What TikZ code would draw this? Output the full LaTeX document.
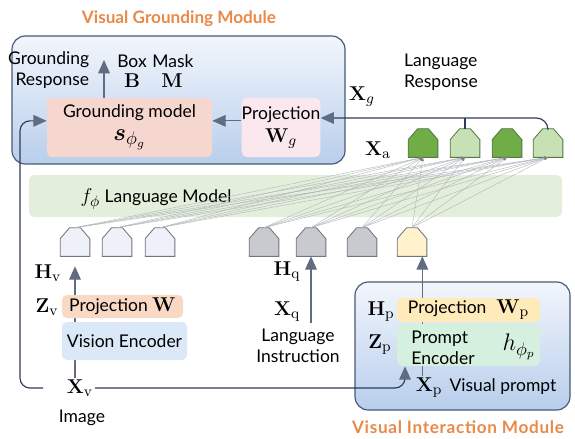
\documentclass[tikz,border=0pt]{standalone}
\usepackage{amsmath}
\usepackage{amssymb}
\usepackage{bm}
\usepackage[no-math]{fontspec}
\setmainfont{Lato}
\usetikzlibrary{arrows.meta}
\usetikzlibrary{positioning}
\definecolor{titleorange}{RGB}{233,137,72}
\definecolor{modtop}{RGB}{242,246,252}
\definecolor{modbot}{RGB}{184,206,236}
\definecolor{modline}{RGB}{72,88,118}
\definecolor{gmpink}{RGB}{246,215,208}
\definecolor{pgpink}{RGB}{250,232,238}
\definecolor{lmgreen}{RGB}{227,239,219}
\definecolor{pwpeach}{RGB}{249,217,196}
\definecolor{veblue}{RGB}{219,232,247}
\definecolor{pwpyellow}{RGB}{255,235,186}
\definecolor{pemint}{RGB}{214,240,224}
\definecolor{adark}{RGB}{112,173,71}
\definecolor{alight}{RGB}{199,225,181}
\definecolor{aline}{RGB}{84,120,70}
\definecolor{tokwhite}{RGB}{238,241,247}
\definecolor{tokgray}{RGB}{201,202,208}
\definecolor{tokyellow}{RGB}{255,242,205}
\definecolor{tokline}{RGB}{110,116,128}
\definecolor{arrowgray}{RGB}{98,108,128}
\definecolor{connnavy}{RGB}{48,58,92}
\definecolor{fangray}{RGB}{178,181,186}
\newcommand{\tokenpath}[1]{(#1.south west) -- ([yshift=-6.6pt]#1.north west)
    -- ([xshift=5.7pt]#1.north west) -- ([xshift=-5.7pt]#1.north east)
    -- ([yshift=-6.6pt]#1.north east) -- (#1.south east) -- cycle}
\tikzset{modbox/.style = {rounded corners=8pt, top color=modtop, bottom color=modbot,
                          draw=modline, line width=0.7pt},
         title/.style = {font=\bfseries\fontsize{10.3}{12}\selectfont, text=titleorange},
         box/.style = {rounded corners=3pt, inner sep=0pt, align=center},
         mlab/.style = {font=\fontsize{13}{15}\selectfont, inner sep=1pt},
         token/.style = {minimum width=17.4pt, minimum height=16.8pt, inner sep=0pt},
         tokline/.style = {line width=0.5pt},
         fan/.style = {draw=fangray, line width=0.25pt, -{Latex[length=2.2pt,width=1.8pt,color=gray]}},
         conn/.style = {draw=connnavy, line width=0.7pt},
         vline/.style = {draw=arrowgray, line width=0.7pt},
         bigtip/.style = {-{Triangle[length=8pt,width=7pt,color=arrowgray]}}}

\begin{document}
\begin{tikzpicture}[x=0.6pt, y=-0.6pt, font=\fontsize{10.5}{12.5}\selectfont]
    \useasboundingbox (0,0) rectangle (575,438);
    % modules
    \node[modbox, minimum width=199.8pt, minimum height=76.8pt] (vgm) at (178.5,100) {};
    \node[title] (vgmt) at (179,19) {Visual Grounding Module};
    \node[modbox, minimum width=129pt, minimum height=76.8pt] (vim) at (462.5,346) {};
    \node[title] (vimt) at (458,427) {\addfontfeature{LetterSpace=4}Visual Interaction Module};
    % language model
    \node[box, fill=lmgreen, minimum width=319.8pt, minimum height=25.2pt] (lm) at (295.5,196) {};
    \node (lmt) at (156,199) {{\fontsize{13}{15}\selectfont$f_\phi$} Language Model};
    % tokens
    \foreach \n/\x in {v1/75, v2/117, v3/160} {
        \node[token] (\n) at (\x,242) {};
        \filldraw[tokline, fill=tokwhite, draw=tokline] \tokenpath{\n};
    }
    \foreach \n/\x in {q1/264, q2/311, q3/362} {
        \node[token] (\n) at (\x,242) {};
        \filldraw[tokline, fill=tokgray, draw=tokline] \tokenpath{\n};
    }
    \node[token] (p1) at (412,242) {};
    \filldraw[tokline, fill=tokyellow, draw=tokline] \tokenpath{p1};
    \foreach \n/\x/\c in {a1/423/adark, a2/465/alight, a3/507/adark, a4/548/alight} {
        \node[token] (\n) at (\x,143) {};
        \filldraw[tokline, fill=\c, draw=aline] \tokenpath{\n};
    }
    \foreach \s in {v1,v2,v3,q1,q2,q3,p1}
        \foreach \t in {a1,a2,a3,a4}
            \draw[fan] (\s.north) -- (\t.south);
    \node[mlab] (xa) at (378,150) {$\mathbf{X}_\mathrm{a}$};
    % inputs
    \node[mlab] (xv) at (80,388) {$\mathbf{X}_\mathrm{v}$};
    \node (img) at (82,418) {Image};
    \node[align=center] (lq) at (298,346) {Language\\Instruction};
    \node[mlab] (xp) at (429,388) {$\mathbf{X}_\mathrm{p}$};
    \node (vp) at (503,387) {Visual prompt};
    \draw[vline, bigtip, shorten >=6pt] (v1.south |- xv.north) -- (v1.south);
    \draw[vline, bigtip] (lq.north -| q2.south) -- (q2.south);
    \draw[vline, bigtip] ([xshift=-4pt]xp.north) -- ([xshift=-4pt]xp.north |- p1.south);
    % vision branch
    \node[box, fill=pwpeach, minimum width=72.6pt, minimum height=13.8pt] (pw) at (122.5,306.5)
        {Projection {\fontsize{13}{15}\selectfont$\mathbf{W}$}};
    \node[box, fill=veblue, minimum width=75pt, minimum height=22.8pt] (ve) at (124.5,341) {Vision Encoder};
    \node[mlab] (hv) at (48,273) {$\mathbf{H}_\mathrm{v}$};
    \node[mlab] (zv) at (47,307) {$\mathbf{Z}_\mathrm{v}$};
    \node[mlab] (hq) at (287,272) {$\mathbf{H}_\mathrm{q}$};
    \node[mlab] (xq) at (287,312) {$\mathbf{X}_\mathrm{q}$};
    % prompt branch
    \node[box, fill=pwpyellow, minimum width=85.8pt, minimum height=14.4pt] (pwp) at (468.5,310)
        {Projection\hspace{6pt}{\fontsize{13}{15}\selectfont$\mathbf{W}_\mathrm{p}$}};
    \node[box, fill=pemint, minimum width=85.8pt, minimum height=25.2pt] (pe) at (468.5,345) {};
    \node[align=left] (pet) at (443,348) {Prompt\\Encoder};
    \node[font=\fontsize{15}{17}\selectfont] (hphi) at (519,347) {$h_{\phi_p}$};
    \node[mlab] (hp) at (381,312) {$\mathbf{H}_\mathrm{p}$};
    \node[mlab] (zp) at (380,345) {$\mathbf{Z}_\mathrm{p}$};
    % grounding
    \node[box, fill=gmpink, minimum width=99pt, minimum height=35.4pt] (gm) at (129.5,127.5)
        {Grounding model\\[1pt]{\fontsize{15}{17}\selectfont$\boldsymbol{s}_{\phi_g}$}};
    \node[box, fill=pgpink, minimum width=46.8pt, minimum height=35.4pt] (pg) at (281,127.5)
        {Projection\\[1pt]{\fontsize{13}{15}\selectfont$\mathbf{W}_g$}};
    \coordinate (gr) at (104,60);
    \draw[vline, bigtip] ([xshift=-15.3pt]gm.north) -- ([xshift=-15.3pt]gm.north |- gr);
    \node[align=right, anchor=east] (grt) at (95,70) {Grounding\\Response};
    \node (box) at (132,61) {Box};
    \node[mlab] (bb) at (132,81) {$\mathbf{B}$};
    \node (mask) at (173,61) {Mask};
    \node[mlab] (mm) at (172,81) {$\mathbf{M}$};
    \draw[vline, bigtip] ([yshift=4pt]pg.west) -- ([yshift=4pt]gm.east);
    \node[mlab] (xg) at (362,97) {$\mathbf{X}_g$};
    \node[align=left] (lr) at (441,72) {Language\\Response};
    \coordinate (xgl) at (465,118);
    \draw[conn, bigtip, rounded corners=7pt] (a4.north) |- ([yshift=5.7pt]pg.east);
    \draw[conn] (a2.north) -- (a2.north |- xgl);
    % image feedback
    \coordinate (fb) at (20,250);
    \draw[conn, bigtip, rounded corners=6pt, shorten <=13pt] (xv.west) -| (fb) |- ([yshift=4pt]gm.west);
    \draw[conn, bigtip, rounded corners=6pt] (xv.east) -| ([xshift=5pt]pe.south west);
\end{tikzpicture}
\end{document}
